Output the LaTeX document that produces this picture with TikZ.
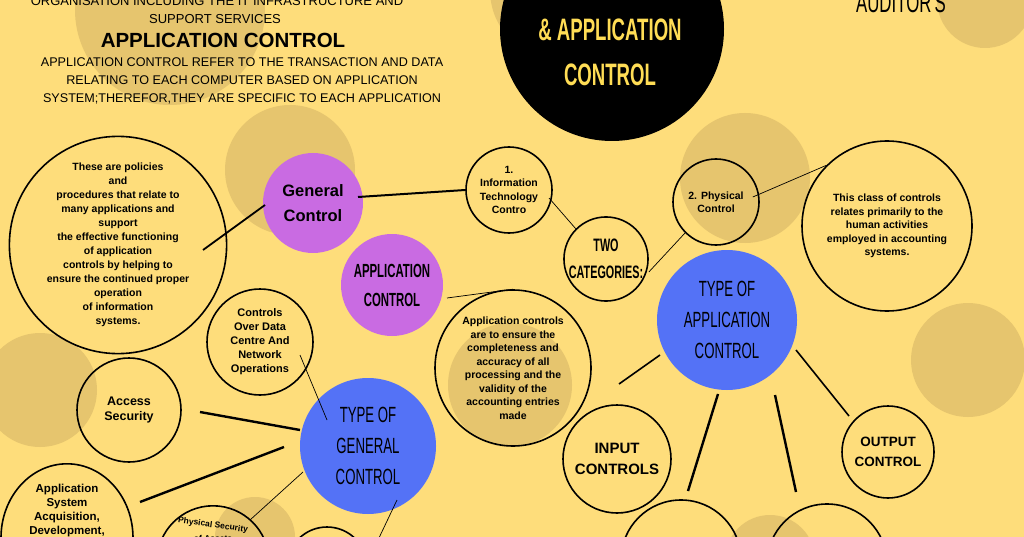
\documentclass[tikz,border=0pt]{standalone}
\usepackage{fontspec}
\usetikzlibrary{shapes.geometric}
\setmainfont{Liberation Sans}
\newfontfamily\cond[FakeStretch=0.6]{Liberation Sans}
\definecolor{bg}{HTML}{FEDD7B}
\definecolor{faint}{HTML}{E6C56E}
\definecolor{purp}{HTML}{C96BE2}
\definecolor{blu}{HTML}{5472F6}
\definecolor{ylw}{HTML}{FFDD55}
\tikzset{
  circ/.style={circle,draw=black,line width=1.6pt,align=center,inner sep=0pt,font=\bfseries\fontsize{10.5}{13.5}\selectfont},
  fill circ/.style={circle,align=center,inner sep=0pt},
  thick line/.style={line width=2.4pt},
  thin line/.style={line width=0.7pt},
}
\begin{document}
\begin{tikzpicture}[x=1pt,y=-1pt]
\useasboundingbox (0,0) rectangle (1024,537);
\clip (0,0) rectangle (1024,537);
\fill[bg] (0,0) rectangle (1024,537);
% faint circles
\foreach \x/\y/\r in {170/10/95, 290/170/65, 745/178/65, 40/390/57, 968/360/57, 985/0/48, 510/385/62, 255/537/40, 560/-10/70, 770/560/45}
  \fill[faint] (\x,\y) circle (\r);
% top texts
\node[font=\fontsize{13}{15}\selectfont] (t0) at (217,1) {ORGANISATION INCLUDING THE IT INFRASTRUCTURE AND};
\node[font=\fontsize{13}{15}\selectfont] (t1) at (215,19) {SUPPORT SERVICES};
\node[font=\bfseries\fontsize{20.5}{22}\selectfont] (t2) at (223,40) {APPLICATION CONTROL};
\node[font=\fontsize{12.6}{18}\selectfont,align=center] (t3) at (242,81) {APPLICATION CONTROL REFER TO THE TRANSACTION AND DATA\\RELATING TO EACH COMPUTER BASED ON APPLICATION\\SYSTEM;THEREFOR,THEY ARE SPECIFIC TO EACH APPLICATION};
% black circle
\fill[black] (612,29) circle (112);
\node[fill circ,text=ylw,font=\cond\bfseries\fontsize{31}{45}\selectfont,align=center] (main) at (610,52) {\& APPLICATION\\CONTROL};
\node[font=\cond\fontsize{28}{30}\selectfont] (aud) at (901,3) {AUDITOR'S};
% nodes
\node[circ,minimum size=196pt,font=\bfseries\fontsize{10.5}{14}\selectfont] (pol) at (118,245) {These are policies\\and\\procedures that relate to\\many applications and\\support\\the effective functioning\\of application\\controls by helping to\\ensure the continued proper\\operation\\of information\\systems.};
\node[fill circ,fill=purp,minimum size=100pt,font=\bfseries\fontsize{16.5}{25}\selectfont] (gc) at (313,203) {General\\Control};
\node[circ,minimum size=86pt] (it) at (509,190) {1.\\Information\\Technology\\Contro};
\node[circ,minimum size=84pt,font=\cond\bfseries\fontsize{18}{27}\selectfont] (two) at (606,259) {TWO\\CATEGORIES:};
\node[circ,minimum size=86pt] (phy) at (716,202) {2. Physical\\Control};
\node[circ,minimum size=170pt] (hum) at (887,226) {This class of controls\\relates primarily to the\\human activities\\employed in accounting\\systems.};
\node[fill circ,fill=purp,minimum size=102pt,font=\cond\bfseries\fontsize{19}{29}\selectfont] (ac) at (392,285) {APPLICATION\\CONTROL};
\node[circ,minimum size=156pt] (acd) at (513,368) {Application controls\\are to ensure the\\completeness and\\accuracy of all\\processing and the\\validity of the\\accounting entries\\made};
\node[fill circ,fill=blu,minimum size=140pt,font=\cond\fontsize{22}{31}\selectfont] (tac) at (727,320) {TYPE OF\\APPLICATION\\CONTROL};
\node[circ,minimum size=106pt,font=\bfseries\fontsize{11}{14}\selectfont] (dc) at (260,342) {Controls\\Over Data\\Centre And\\Network\\Operations};
\node[circ,minimum size=104pt,font=\bfseries\fontsize{12.5}{15}\selectfont] (as) at (129,410) {Access\\Security};
\node[fill circ,fill=blu,minimum size=136pt,font=\cond\fontsize{22}{31}\selectfont] (tgc) at (368,446) {TYPE OF\\GENERAL\\CONTROL};
\node[circ,ellipse,minimum width=132pt,minimum height=148pt,anchor=north] (asa) at (67,463) {};
\node[font=\bfseries\fontsize{11.5}{14}\selectfont,align=center,anchor=north] (asat) at (67,481) {Application\\System\\Acquisition,\\Development,\\and};
\node[circ,minimum size=112pt,anchor=north] (ps) at (213,505) {};
\node[font=\bfseries\fontsize{8.5}{11}\selectfont,align=center,anchor=north] (pst) at (213,513) {\rotatebox{-8}{Physical Security}\\of Assets};
\node[circ,minimum size=80pt] (c7) at (327,567) {};
\node[circ,minimum size=108pt,font=\bfseries\fontsize{15}{21}\selectfont] (in) at (617,459) {INPUT\\CONTROLS};
\node[circ,minimum size=92pt,font=\bfseries\fontsize{13.5}{20}\selectfont] (out) at (888,452) {OUTPUT\\CONTROL};
\node[circ,minimum size=120pt] (b1) at (681,560) {};
\node[circ,minimum size=120pt] (b2) at (827,564) {};
% connectors
\coordinate (p1) at (203,250); \coordinate (p2) at (265,205);
\draw[line width=1.8pt] (p1) -- (p2);
\coordinate (q1) at (358,197);
\draw[line width=2pt] (q1) -- (it.west);
\draw[thin line] (it) ++(40,8) coordinate (r1) -- (two.north west);
\draw[thin line] (two.east) ++(0,13) coordinate (r2) -- (phy.south west);
\draw[thin line] (phy.east) ++(-7,-5) coordinate (r3) -- (hum.north west);
\coordinate (r4) at (447,298);
\draw[thin line] (r4) -- (acd.north);
\coordinate (s1) at (660,355); \coordinate (s2) at (619,384);
\draw[line width=1.6pt] (s1) -- (s2);
\coordinate (u1) at (300,355); \coordinate (u2) at (327,420);
\draw[thin line] (u1) -- (u2);
\coordinate (v1) at (200,412); \coordinate (v2) at (300,430);
\draw[thick line] (v1) -- (v2);
\coordinate (w1) at (284,447); \coordinate (w2) at (140,502);
\draw[thick line] (w1) -- (w2);
\coordinate (x1) at (303,472); \coordinate (x2) at (250,520);
\draw[thin line] (x1) -- (x2);
\coordinate (y1) at (397,500); \coordinate (y2) at (378,540);
\draw[thin line] (y1) -- (y2);
\coordinate (z1) at (718,394); \coordinate (z2) at (688,491);
\draw[thick line] (z1) -- (z2);
\coordinate (z3) at (775,395); \coordinate (z4) at (796,492);
\draw[thick line] (z3) -- (z4);
\coordinate (z5) at (796,350); \coordinate (z6) at (849,416);
\draw[line width=1.6pt] (z5) -- (z6);
\end{tikzpicture}
\end{document}
